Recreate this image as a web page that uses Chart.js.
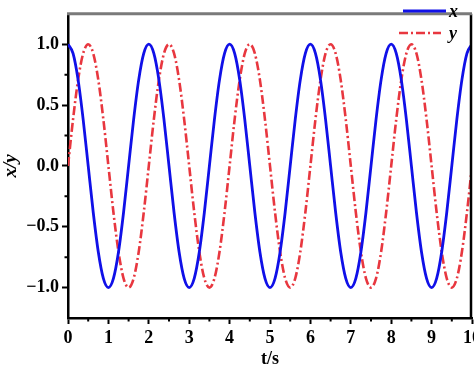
<!DOCTYPE html>
<html><head><meta charset="utf-8">
<script src="https://cdn.jsdelivr.net/npm/chart.js@4.4.1/dist/chart.umd.min.js"></script>
<style>html,body{margin:0;padding:0;background:#fff;}#wrap{width:474px;height:370px;}</style>
</head><body><div id="wrap"><canvas id="c" width="474" height="370"></canvas></div>
<script>
const tValues = [0,0.125,0.25,0.375,0.5,0.625,0.75,0.875,1,1.125,1.25,1.375,1.5,1.625,1.75,1.875,
2,2.125,2.25,2.375,2.5,2.625,2.75,2.875,3,3.125,3.25,3.375,3.5,3.625,3.75,3.875,
4,4.125,4.25,4.375,4.5,4.625,4.75,4.875,5,5.125,5.25,5.375,5.5,5.625,5.75,5.875,
6,6.125,6.25,6.375,6.5,6.625,6.75,6.875,7,7.125,7.25,7.375,7.5,7.625,7.75,7.875,
8,8.125,8.25,8.375,8.5,8.625,8.75,8.875,9,9.125,9.25,9.375,9.5,9.625,9.75,9.875,10];
const xSeries = [1,0.924,0.707,0.383,0,-0.383,-0.707,-0.924,-1,-0.924,-0.707,-0.383,0,0.383,0.707,0.924,
1,0.924,0.707,0.383,0,-0.383,-0.707,-0.924,-1,-0.924,-0.707,-0.383,0,0.383,0.707,0.924,
1,0.924,0.707,0.383,0,-0.383,-0.707,-0.924,-1,-0.924,-0.707,-0.383,0,0.383,0.707,0.924,
1,0.924,0.707,0.383,0,-0.383,-0.707,-0.924,-1,-0.924,-0.707,-0.383,0,0.383,0.707,0.924,
1,0.924,0.707,0.383,0,-0.383,-0.707,-0.924,-1,-0.924,-0.707,-0.383,0,0.383,0.707,0.924,1];
const ySeries = [0,0.383,0.707,0.924,1,0.924,0.707,0.383,0,-0.383,-0.707,-0.924,-1,-0.924,-0.707,-0.383,
0,0.383,0.707,0.924,1,0.924,0.707,0.383,0,-0.383,-0.707,-0.924,-1,-0.924,-0.707,-0.383,
0,0.383,0.707,0.924,1,0.924,0.707,0.383,0,-0.383,-0.707,-0.924,-1,-0.924,-0.707,-0.383,
0,0.383,0.707,0.924,1,0.924,0.707,0.383,0,-0.383,-0.707,-0.924,-1,-0.924,-0.707,-0.383,
0,0.383,0.707,0.924,1,0.924,0.707,0.383,0,-0.383,-0.707,-0.924,-1,-0.924,-0.707,-0.383,0];
const seriesNames = ['x','y'];
const yTicks = [-1,-0.5,0,0.5,1];
const yMinorTicks = [-0.75,-0.25,0.25,0.75];
const xMinorTicks = [0.5,1.5,2.5,3.5,4.5,5.5,6.5,7.5,8.5,9.5];

const FONT = "'Liberation Serif','Times New Roman',serif";
const BLUE = '#1010e8';
const RED = '#e8373f';

const pts = arr => tValues.map((t,i)=>({x:t,y:arr[i]}));

const framePlugin = {
  id:'frame',
  afterDraw(chart){
    const ctx = chart.ctx, a = chart.chartArea;
    const xs = chart.scales.x, ys = chart.scales.y;
    ctx.save();
    ctx.strokeStyle = '#000'; ctx.lineWidth = 2;
    ctx.beginPath();
    xMinorTicks.forEach(v=>{const p=xs.getPixelForValue(v); ctx.moveTo(p,a.bottom); ctx.lineTo(p,a.bottom+3.5);});
    yMinorTicks.forEach(v=>{const p=ys.getPixelForValue(v); ctx.moveTo(a.left,p); ctx.lineTo(a.left-3.5,p);});
    ctx.stroke();
    ctx.lineWidth = 2.5;
    ctx.beginPath(); ctx.moveTo(a.right-1,a.top); ctx.lineTo(a.right-1,a.bottom+1); ctx.stroke();
    ctx.strokeStyle = '#7a7a7a'; ctx.lineWidth = 3;
    ctx.beginPath(); ctx.moveTo(a.left-1,a.top); ctx.lineTo(a.right,a.top); ctx.stroke();
    const ds = chart.data.datasets;
    const rows = [{x0:403,x1:446,y:11},{x0:399,x1:441,y:33}];
    ds.forEach((d,i)=>{
      const r = rows[i];
      ctx.strokeStyle = d.borderColor; ctx.lineWidth = d.borderWidth;
      ctx.setLineDash(d.borderDash||[]);
      ctx.beginPath(); ctx.moveTo(r.x0,r.y); ctx.lineTo(r.x1,r.y); ctx.stroke();
      ctx.setLineDash([]);
      ctx.fillStyle = '#000';
      ctx.font = "italic bold 18px " + FONT;
      ctx.textBaseline = 'middle'; ctx.textAlign = 'left';
      ctx.fillText(d.label, 449, r.y+1);
    });
    ctx.restore();
  }
};

new Chart(document.getElementById('c'), {
  type:'line',
  data:{datasets:[
    {label:seriesNames[0], data:pts(xSeries), borderColor:BLUE, borderWidth:2.8, pointRadius:0, cubicInterpolationMode:'monotone', fill:false},
    {label:seriesNames[1], data:pts(ySeries), borderColor:RED, borderWidth:2.6, borderDash:[9,3,2,3], pointRadius:0, cubicInterpolationMode:'monotone', fill:false}
  ]},
  options:{
    responsive:false, animation:false,
    layout:{padding:{top:3,right:0,left:0,bottom:0}},
    plugins:{legend:{display:false}, tooltip:{enabled:false}},
    scales:{
      x:{type:'linear', min:0, max:10,
        ticks:{stepSize:1, color:'#000', font:{family:FONT, size:18, weight:'bold'}, padding:4, maxRotation:0},
        grid:{drawOnChartArea:false, drawTicks:true, tickLength:6, tickWidth:2, tickColor:'#000'},
        border:{color:'#000', width:2.5},
        title:{display:true, text:'t/s', color:'#000', font:{family:FONT, size:18, weight:'bold'}, padding:{top:0,bottom:0}},
        afterFit:s=>{s.height=52; s.paddingRight=2; s.paddingLeft=0;}
      },
      y:{type:'linear', min:-1.25, max:1.25,
        afterBuildTicks:s=>{s.ticks = yTicks.map(v=>({value:v}));},
        ticks:{color:'#000', font:{family:FONT, size:18, weight:'bold'}, padding:3,
          callback:v=>v.toFixed(1).replace('-','\u2212')},
        grid:{drawOnChartArea:false, drawTicks:true, tickLength:6, tickWidth:2, tickColor:'#000'},
        border:{color:'#000', width:2.5},
        title:{display:true, text:'x/y', color:'#000', font:{family:FONT, size:19, weight:'bold', style:'italic'}, padding:{top:0,bottom:2}},
        afterFit:s=>{s.width=68;}
      }
    }
  },
  plugins:[framePlugin]
});
</script>
</body></html>
